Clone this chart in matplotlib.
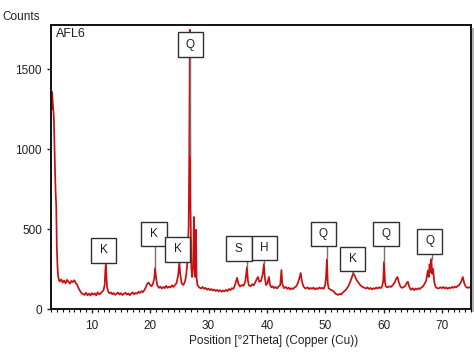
import matplotlib
matplotlib.use("Agg")
import matplotlib.pyplot as plt
from matplotlib.patches import Rectangle
from matplotlib.ticker import MultipleLocator

# diffractogram, 2Theta (deg) and counts
two_theta = [
    3.1, 3.2, 3.3, 3.4, 3.5, 3.6, 3.7, 3.8, 3.9, 4.0, 4.1, 4.2, 4.3, 4.4,
    4.5, 4.75, 5.0, 5.25, 5.5, 5.75, 6.0, 6.25, 6.5, 6.75, 7.0, 7.25, 7.5,
    7.75, 8.0, 8.25, 8.5, 8.75, 9.0, 9.25, 9.5, 9.75, 10.0, 10.25, 10.5,
    10.75, 11.0, 11.25, 11.5, 11.75, 12.0, 12.2, 12.3, 12.4, 12.5, 12.6,
    12.8, 13.0, 13.25, 13.5, 13.75, 14.0, 14.25, 14.5, 14.75, 15.0, 15.25,
    15.5, 15.75, 16.0, 16.25, 16.5, 16.75, 17.0, 17.25, 17.5, 17.75, 18.0,
    18.25, 18.5, 18.75, 19.0, 19.25, 19.5, 19.75, 20.0, 20.25, 20.5, 20.7,
    20.85, 21.0, 21.2, 21.5, 21.75, 22.0, 22.25, 22.5, 22.75, 23.0, 23.25,
    23.5, 23.75, 24.0, 24.25, 24.5, 24.8, 25.0, 25.15, 25.4, 25.7, 26.0,
    26.2, 26.4, 26.6, 26.7, 26.8, 26.9, 27.05, 27.2, 27.35, 27.5, 27.6,
    27.75, 27.85, 27.95, 28.1, 28.4, 28.75, 29.0, 29.25, 29.5, 29.75, 30.0,
    30.25, 30.5, 30.75, 31.0, 31.25, 31.5, 31.75, 32.0, 32.25, 32.5, 32.75,
    33.0, 33.25, 33.5, 33.75, 34.0, 34.25, 34.5, 34.75, 34.9, 35.1, 35.4,
    35.75, 36.0, 36.3, 36.6, 36.75, 36.9, 37.2, 37.5, 37.75, 38.0, 38.3,
    38.5, 38.7, 39.0, 39.3, 39.5, 39.65, 39.85, 40.1, 40.35, 40.55, 40.8,
    41.0, 41.25, 41.5, 41.75, 42.0, 42.3, 42.5, 42.65, 42.9, 43.25, 43.5,
    43.75, 44.0, 44.25, 44.5, 44.75, 45.0, 45.3, 45.6, 45.8, 46.0, 46.3,
    46.6, 47.0, 47.25, 47.5, 47.75, 48.0, 48.25, 48.5, 48.75, 49.0, 49.25,
    49.5, 49.75, 50.0, 50.15, 50.3, 50.45, 50.6, 50.75, 51.0, 51.25, 51.5,
    51.75, 52.0, 52.25, 52.5, 52.75, 53.0, 53.25, 53.5, 53.75, 54.0, 54.3,
    54.6, 54.8, 55.1, 55.4, 55.7, 56.0, 56.3, 56.6, 57.0, 57.25, 57.5,
    57.75, 58.0, 58.25, 58.5, 58.75, 59.0, 59.25, 59.5, 59.75, 59.95, 60.1,
    60.25, 60.4, 60.7, 61.0, 61.3, 61.6, 61.9, 62.2, 62.4, 62.6, 62.9,
    63.2, 63.5, 63.75, 64.0, 64.2, 64.4, 64.7, 65.0, 65.25, 65.5, 65.75,
    66.0, 66.25, 66.5, 66.75, 67.0, 67.3, 67.6, 67.75, 67.9, 68.05, 68.2,
    68.35, 68.5, 68.7, 68.9, 69.1, 69.4, 69.75, 70.0, 70.25, 70.5, 70.75,
    71.0, 71.25, 71.5, 71.75, 72.0, 72.25, 72.5, 72.75, 73.0, 73.3, 73.6,
    73.85, 74.1, 74.4, 74.7, 75.0,
]
counts = [
    1250, 1356, 1290, 1250, 1180, 1000, 850, 720, 640, 380, 280, 215, 190, 178,
    172, 185, 165, 178, 160, 182, 170, 158, 176, 168, 180, 162, 150,
    128, 112, 98, 94, 88, 102, 86, 96, 84, 100, 90, 98,
    85, 104, 92, 97, 108, 118, 150, 230, 282, 210, 140,
    110, 98, 104, 92, 100, 88, 96, 103, 90, 99, 87,
    95, 102, 90, 98, 86, 97, 104, 92, 100, 96, 108,
    100, 112, 105, 118, 135, 158, 165, 150, 142, 160, 190,
    256, 200, 150, 132, 140, 128, 138, 130, 145, 132, 140,
    135, 148, 138, 150, 160, 210, 294, 220, 160, 150, 175,
    220, 300, 520, 960, 1745, 700, 260, 200, 250, 575, 300,
    200, 495, 200, 150, 135, 128, 138, 126, 132, 120, 128,
    118, 125, 115, 122, 112, 120, 110, 118, 108, 116, 110,
    120, 112, 125, 118, 130, 125, 145, 175, 195, 160, 140,
    150, 145, 170, 262, 180, 150, 142, 155, 148, 165, 190,
    200, 170, 175, 220, 281, 200, 150, 160, 200, 150, 135,
    142, 130, 138, 128, 140, 150, 244, 160, 130, 138, 126,
    134, 122, 130, 125, 135, 140, 160, 195, 225, 175, 140,
    128, 135, 124, 132, 126, 134, 122, 130, 125, 135, 128,
    132, 126, 150, 200, 310, 160, 130, 125, 120, 115, 108,
    96, 92, 88, 95, 90, 102, 110, 118, 130, 145, 170,
    200, 225, 205, 180, 165, 150, 140, 135, 128, 135, 125,
    132, 122, 130, 126, 134, 128, 136, 130, 140, 175, 294,
    170, 140, 135, 142, 138, 150, 165, 190, 200, 170, 140,
    132, 138, 145, 165, 170, 140, 120, 130, 118, 128, 122,
    130, 125, 135, 140, 155, 175, 240, 200, 280, 230, 312,
    220, 250, 170, 140, 132, 128, 136, 130, 138, 128, 135,
    126, 134, 130, 138, 132, 140, 135, 145, 150, 170, 200,
    160, 140, 132, 136, 130,
]

# phase labels: text, box centre (2Theta, counts), peak 2Theta, end of marker line
label_text = ['K', 'K', 'K', 'Q', 'S', 'H', 'Q', 'K', 'Q', 'Q']
box_x = [12.0, 20.6, 24.7, 26.9, 35.2, 39.6, 49.7, 54.7, 60.4, 67.9]
box_y = [366, 469, 372, 1653, 378, 381, 469, 312, 469, 422]
peak_x = [12.4, 20.85, 25.0, 26.8, 36.6, 39.5, 50.3, 54.8, 60.1, 68.3]
peak_y = [282, 256, 294, 960, 262, 281, 310, 225, 294, 312]

W, H = 474, 353
fig = plt.figure(figsize=(W / 100, H / 100), dpi=100)
plt.rcParams['font.family'] = ['Liberation Sans', 'DejaVu Sans']
ax = fig.add_axes([51 / W, 1 - 309 / H, 420 / W, 284 / H])

ax.plot(two_theta, counts, color='#c81010', linewidth=1.25, zorder=2)

box_w = 4.4   # 2Theta units (about 26 px)
box_h = 155   # counts (about 25 px)
for i in range(len(label_text)):
    bottom = box_y[i] - box_h / 2
    ax.plot([peak_x[i], peak_x[i]], [bottom, peak_y[i]],
            color='#807070', linewidth=1.0, zorder=3)
    ax.add_patch(Rectangle((box_x[i] - box_w / 2, bottom), box_w, box_h,
                           facecolor='white', edgecolor='#303030',
                           linewidth=1.0, zorder=4))
    ax.text(box_x[i], box_y[i], label_text[i], ha='center', va='center',
            fontsize=8.5, color='#202020', zorder=5)

ax.set_xlim(3, 75)
ax.set_ylim(0, 1775)
ax.set_yticks([0, 500, 1000, 1500])
ax.xaxis.set_major_locator(MultipleLocator(10))
ax.xaxis.set_minor_locator(MultipleLocator(1))
ax.tick_params(axis='both', which='major', direction='out', length=3,
               width=1, labelsize=8.5, colors='#202020')
ax.tick_params(axis='x', which='minor', direction='out', length=1.8,
               width=0.8)
ax.tick_params(axis='x', pad=5)
for s in ax.spines.values():
    s.set_linewidth(1.4)
    s.set_color('#111111')

ax.text(0.012, 0.99, 'AFL6', transform=ax.transAxes, ha='left', va='top',
        fontsize=9, color='#202020')
fig.text(2 / W, 1 - 17 / H, 'Counts', ha='left', va='center', fontsize=8.5,
         color='#202020')
fig.text(274 / W, 1 - 341 / H, 'Position [°2Theta] (Copper (Cu))',
         ha='center', va='center', fontsize=8.5, color='#202020')

# grey drop shadow at the right edge of the frame
fig.add_artist(Rectangle((471.5 / W, 1 - 312 / H), 2.5 / W, 284 / H,
                         transform=fig.transFigure, facecolor='#b0b0b0',
                         edgecolor='none'))

fig.savefig('out.png', dpi=100)
